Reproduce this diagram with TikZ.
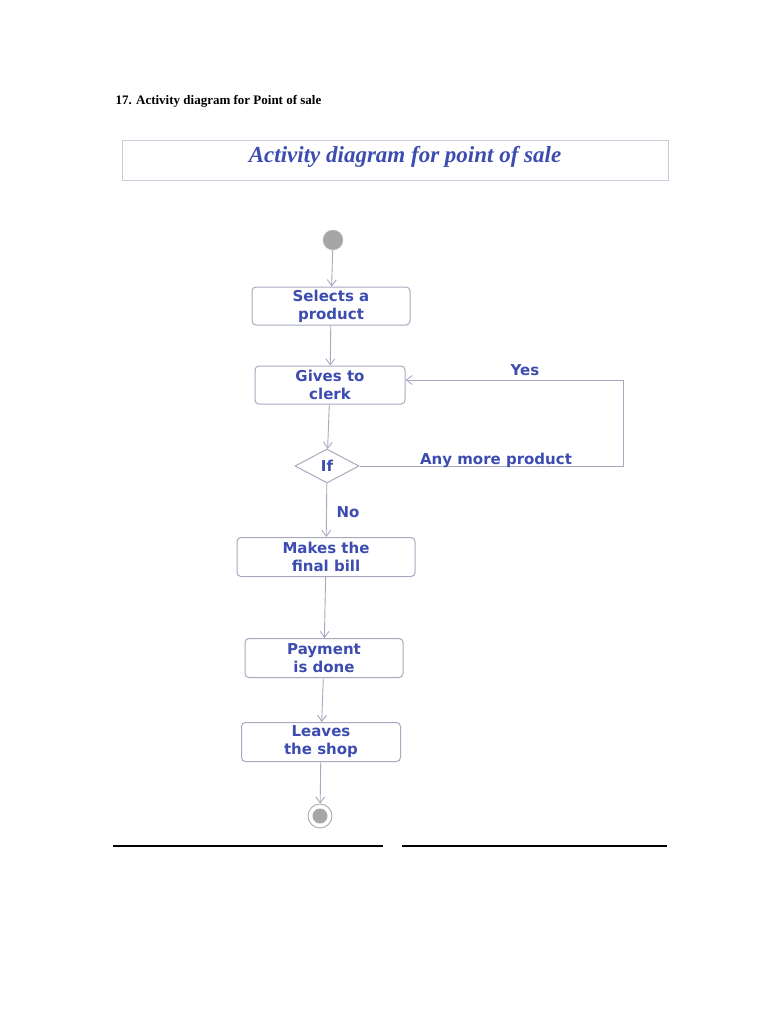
\documentclass[tikz,border=0pt]{standalone}
\usepackage{fontspec}
\setmainfont{Liberation Serif}
\newfontfamily\diafont{DejaVu Sans}
\usetikzlibrary{shapes.geometric,arrows.meta}
\definecolor{ink}{HTML}{3C4CB0}
\definecolor{edge}{HTML}{A8A8C0}
\tikzset{
  act/.style={draw=edge,rounded corners=4pt,line width=1pt,text=ink,font=\diafont\bfseries\fontsize{15}{18}\selectfont,align=center,inner sep=0pt},
  flow/.style={draw=edge,line width=0.9pt,-{Straight Barb[length=6pt,width=9pt]}},
  lbl/.style={text=ink,font=\diafont\bfseries\fontsize{15}{18}\selectfont}
}
\begin{document}
\begin{tikzpicture}[x=1pt,y=-1pt]
\useasboundingbox (0,0) rectangle (768,1024);
\node[anchor=west,font=\bfseries\fontsize{13}{15}\selectfont] (hd) at (112,101) {17. Activity diagram for Point of sale};
\node[draw=edge!60,minimum width=546pt,minimum height=40pt,inner sep=0pt] (ban) at (395,160) {};
\node[text=ink,font=\bfseries\itshape\fontsize{23}{25}\selectfont] (bt) at (405,157) {Activity diagram for point of sale};
\node[circle,fill=gray!70,draw=gray!50,minimum size=20pt,inner sep=0pt] (st) at (333,240) {};
\node[act,minimum width=158pt,minimum height=38pt] (a1) at (331,306) {Selects a\\product};
\node[act,minimum width=150pt,minimum height=38pt] (a2) at (330,385) {Gives to\\clerk};
\node[diamond,draw=edge,line width=1pt,aspect=1.8,minimum width=64pt,minimum height=34pt,inner sep=0pt,text=ink,font=\diafont\bfseries\fontsize{15}{18}\selectfont] (d) at (327,466) {If};
\node[act,minimum width=178pt,minimum height=39pt] (a3) at (326,557) {Makes the\\final bill};
\node[act,minimum width=158pt,minimum height=39pt] (a4) at (324,658) {Payment\\is done};
\node[act,minimum width=159pt,minimum height=39pt] (a5) at (321,742) {Leaves\\the shop};
\node[circle,draw=gray!60,line width=1pt,minimum size=24pt,inner sep=0pt] (en) at (320,816) {};
\node[circle,fill=gray!70,minimum size=15pt,inner sep=0pt] at (en) {};
\coordinate (c1) at (623,466);
\coordinate (c2) at (623,380);
\draw[flow] (st) -- (a1);
\draw[flow] (a1) -- (a2);
\draw[flow] (a2) -- (d);
\draw[flow] (d.east) -- (c1) -- (c2) -- (a2.east |- c2);
\node[lbl] (ny) at (525,370) {Yes};
\node[lbl] (na) at (496,460) {Any more product};
\draw[flow] (d) -- (a3);
\node[lbl] (nn) at (348,512) {No};
\draw[flow] (a3) -- (a4);
\draw[flow] (a4) -- (a5);
\draw[flow] (a5) -- (en);
\draw[line width=1.3pt] (113,846) -- (383,846);
\draw[line width=1.3pt] (402,846) -- (667,846);
\end{tikzpicture}
\end{document}
